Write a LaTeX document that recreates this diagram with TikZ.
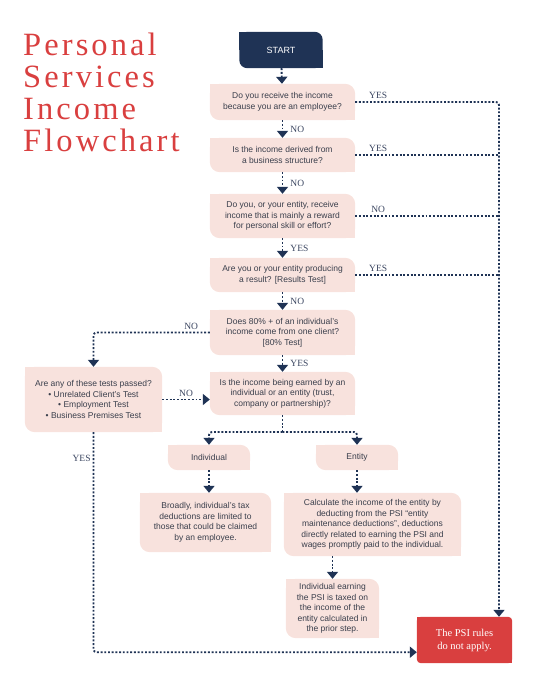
\documentclass[tikz,border=0pt]{standalone}
\usepackage{fontspec}
\setmainfont{Liberation Serif}
\setsansfont{Liberation Sans}
\newfontfamily\titlefont[LetterSpace=9.5]{Liberation Serif}
\usetikzlibrary{arrows.meta,positioning,calc,backgrounds}
\definecolor{navy}{HTML}{1F3355}
\definecolor{psired}{HTML}{D93F3F}
\definecolor{blush}{HTML}{F8E2DD}
\definecolor{labelink}{HTML}{3A4560}
\definecolor{textink}{HTML}{3A3F4C}

% box with round top-right and bottom-left corners
\newcommand\diagfill[3]{%
  \fill[#2, rounded corners=#3] (#1.south west) rectangle (#1.north east);
  \fill[#2] (#1.north west) rectangle (#1.center);
  \fill[#2] (#1.south east) rectangle (#1.center);}

\begin{document}
\begin{tikzpicture}[x=1pt,y=-1pt,
    qbox/.style={font=\sffamily\fontsize{8.5}{10.5}\selectfont, text=textink,
                 align=center, minimum width=145pt, inner sep=2pt},
    lbl/.style={font=\fontsize{9.5}{11}\selectfont, text=labelink, inner sep=2pt},
    flowline/.style={navy, line width=1.9pt, dash pattern=on 1.9pt off 1.8pt},
    flow/.style={flowline, -{Triangle[width=11pt,length=7pt]}}]
  \useasboundingbox (0,0) rectangle (536,692);

  \node[anchor=base west, align=left, inner sep=0, text=psired,
        font=\titlefont\fontsize{32.5}{32}\selectfont] (title) at (23,152)
        {Personal\\Services\\Income\\Flowchart};

  \node[qbox, text=white, font=\sffamily\fontsize{9}{11}\selectfont,
        minimum width=83pt, minimum height=36pt] (start) at (281,50) {START};
  \node[qbox, minimum height=36pt] (q1) at (282.5,102)
        {Do you receive the income\\because you are an employee?};
  \node[qbox, minimum height=34pt] (q2) at (282.5,155)
        {Is the income derived from\\a business structure?};
  \node[qbox, minimum height=44pt] (q3) at (282.5,216)
        {Do you, or your entity, receive\\income that is mainly a reward\\for personal skill or effort?};
  \node[qbox, minimum height=34pt] (q4) at (282.5,275)
        {Are you or your entity producing\\a result? [Results Test]};
  \node[qbox, minimum height=45pt] (q5) at (282.5,332.5)
        {Does 80\% + of an individual's\\income come from one client?\\{[80\% Test]}};
  \node[qbox, minimum height=43pt] (q6) at (282.5,393.5)
        {Is the income being earned by an\\individual or an entity (trust,\\company or partnership)?};
  \node[qbox, minimum width=137pt, minimum height=65pt] (tests) at (93.5,399.5)
        {Are any of these tests passed?\\• Unrelated Client's Test\\• Employment Test\\• Business Premises Test};
  \node[qbox, minimum width=82pt, minimum height=25pt] (indiv) at (209,457.5) {Individual};
  \node[qbox, minimum width=82pt, minimum height=25pt] (entity) at (357,457.5) {Entity};
  \node[qbox, minimum width=131pt, minimum height=59pt] (broad) at (205.5,522.5)
        {Broadly, individual's tax\\deductions are limited to\\those that could be claimed\\by an employee.};
  \node[qbox, minimum width=177pt, minimum height=63pt] (calc) at (372.5,524.5)
        {Calculate the income of the entity by\\deducting from the PSI ``entity\\maintenance deductions'', deductions\\directly related to earning the PSI and\\wages promptly paid to the individual.};
  \node[qbox, minimum width=93pt, minimum height=59pt] (earn) at (332.5,608.5)
        {Individual earning\\the PSI is taxed on\\the income of the\\entity calculated in\\the prior step.};
  \node[align=center, text=white, font=\fontsize{10.5}{13}\selectfont,
        minimum width=95pt, minimum height=46pt] (psi) at (464.5,640)
        {The PSI rules\\do not apply.};

  \begin{scope}[on background layer]
    \diagfill{start}{navy}{8pt}
    \foreach \n in {q1,q2,q3,q4,q5,q6,tests,indiv,entity,broad,calc,earn}
      {\diagfill{\n}{blush}{10pt}}
    \diagfill{psi}{psired}{4pt}
  \end{scope}

  \coordinate (rail) at (499,0);
  \coordinate (split) at (282.5,432);

  % main column
  \draw[flow] (start) -- (q1);
  \draw[flow] (q1) -- node[lbl, right=5pt] {NO} (q2);
  \draw[flow] (q2) -- node[lbl, right=5pt] {NO} (q3);
  \draw[flow] (q3) -- node[lbl, right=5pt] {YES} (q4);
  \draw[flow] (q4) -- node[lbl, right=5pt] {NO} (q5);
  \draw[flow] (q5) -- node[lbl, right=5pt] {YES} (q6);

  % right rail to the red box
  \draw[flow, rounded corners=3pt] (q1.east) -- node[lbl, above, pos=0.16] {YES}
        (q1.east -| rail) -- (rail |- psi.north);
  \draw[flowline] (q2.east) -- node[lbl, above, pos=0.16] {YES} (q2.east -| rail);
  \draw[flowline] (q3.east) -- node[lbl, above, pos=0.16] {NO} (q3.east -| rail);
  \draw[flowline] (q4.east) -- node[lbl, above, pos=0.16] {YES} (q4.east -| rail);

  % 80% test fails
  \draw[flow, rounded corners=3pt] (q5.west) -| node[lbl, above, pos=0.08] {NO} (tests.north);
  \draw[flow] (tests.east) -- node[lbl, above] {NO} (tests.east -| q6.west);
  \draw[flow, rounded corners=3pt] (tests.south) |- node[lbl, left, pos=0.06] {YES}
        ([yshift=11pt]psi.south west);

  % individual or entity
  \draw[flowline] (q6.south) -- (split);
  \draw[flow, rounded corners=3pt] (split) -| (indiv.north);
  \draw[flow, rounded corners=3pt] (split) -| (entity.north);
  \draw[flow] (indiv) -- (indiv |- broad.north);
  \draw[flow] (entity) -- (entity |- calc.north);
  \draw[flow] (calc.south -| earn) -- (earn);
\end{tikzpicture}
\end{document}
